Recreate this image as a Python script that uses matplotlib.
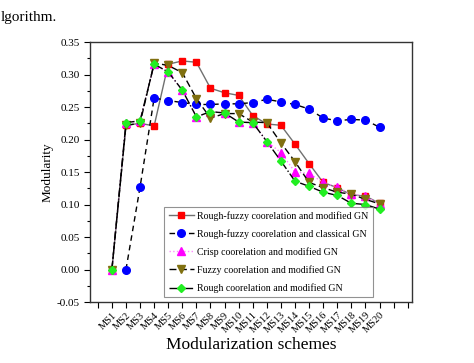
import matplotlib
matplotlib.use('Agg')
import matplotlib.pyplot as plt
import numpy as np

plt.rcParams['font.family'] = ['Liberation Serif', 'DejaVu Serif']

# modularization schemes MS1..MS20
schemes = ['MS%d' % i for i in range(1, 21)]

# rough-fuzzy coorelation + modified GN
rf_mod = [0.0, 0.222, 0.225, 0.221, 0.316, 0.321, 0.319, 0.279, 0.272, 0.268,
          0.237, 0.224, 0.222, 0.193, 0.163, 0.134, 0.126, 0.115, 0.113, 0.102]
# rough-fuzzy coorelation + classical GN (no value for MS1)
rf_cls = [np.nan, 0.0, 0.127, 0.264, 0.260, 0.257, 0.254, 0.254, 0.255, 0.255,
          0.257, 0.262, 0.258, 0.254, 0.247, 0.233, 0.229, 0.231, 0.230, 0.219]
# crisp coorelation + modified GN
crisp_mod = [0.0, 0.226, 0.229, 0.316, 0.304, 0.276, 0.235, 0.243, 0.241, 0.227,
             0.226, 0.197, 0.180, 0.150, 0.148, 0.134, 0.127, 0.116, 0.113, 0.101]
# fuzzy coorelation + modified GN
fuzzy_mod = [0.0, 0.222, 0.225, 0.318, 0.314, 0.303, 0.263, 0.233, 0.240, 0.240,
             0.227, 0.226, 0.195, 0.166, 0.134, 0.126, 0.119, 0.116, 0.108, 0.101]
# rough coorelation + modified GN
rough_mod = [0.0, 0.226, 0.229, 0.316, 0.304, 0.276, 0.235, 0.243, 0.241, 0.227,
             0.226, 0.197, 0.167, 0.136, 0.128, 0.119, 0.114, 0.102, 0.100, 0.093]

labels = ['Rough-fuzzy coorelation and modified GN',
          'Rough-fuzzy coorelation and classical GN',
          'Crisp coorelation and modified GN',
          'Fuzzy coorelation and modified GN',
          'Rough coorelation and modified GN']

x = np.arange(1, 21)

fig = plt.figure(figsize=(4.74, 3.63), dpi=100)
ax = fig.add_axes([0.19, 0.168, 0.679, 0.716])

ms = 5
ax.plot(x, rf_mod, color='#707070', ls='-', lw=1.0, marker='s', ms=ms,
        mfc='red', mec='red', label=labels[0])
ax.plot(x, rf_cls, color='black', ls=(0, (4, 3)), lw=1.0, marker='o', ms=ms + 0.5,
        mfc='blue', mec='blue', label=labels[1])
ax.plot(x, crisp_mod, color='#ff88ff', ls=':', lw=1.0, marker='^', ms=ms + 0.5,
        mfc='magenta', mec='magenta', label=labels[2])
ax.plot(x, fuzzy_mod, color='black', ls=(0, (5, 2.5)), lw=1.0, marker='v', ms=ms + 0.5,
        mfc='#807010', mec='#807010', label=labels[3])
ax.plot(x, rough_mod, color='black', ls='-.', lw=1.0, marker='D', ms=ms - 0.5,
        mfc='#22ee22', mec='#22ee22', label=labels[4])

ax.set_xlim(-0.55, 22.3)
ax.set_ylim(-0.05, 0.35)
ax.set_xticks(np.arange(0, 23))
ax.set_xticklabels([''] + schemes + ['', ''], rotation=45, ha='right',
                   rotation_mode='anchor', fontsize=7.5)
ax.set_yticks(np.arange(-0.05, 0.351, 0.05))
ax.set_yticklabels(['%.2f' % v for v in np.arange(-0.05, 0.351, 0.05)], fontsize=8)
ax.set_yticks(np.arange(-0.025, 0.35, 0.05), minor=True)
ax.tick_params(direction='out', length=4, width=0.8)
ax.tick_params(which='minor', direction='out', length=2.5, width=0.8)
ax.tick_params(axis='x', pad=2)
for s in ax.spines.values():
    s.set_linewidth(1.0)
    s.set_color('#333333')

ax.set_xlabel('Modularization schemes', fontsize=12.5, labelpad=2)
ax.set_ylabel('Modularity', fontsize=9.5, labelpad=2)

leg = ax.legend(loc='lower right', bbox_to_anchor=(0.885, 0.01), fontsize=7.1,
                handlelength=2.6, frameon=True, fancybox=False,
                edgecolor='#777777', borderpad=0.45, labelspacing=0.85,
                handletextpad=0.3, borderaxespad=0.2)
leg.get_frame().set_linewidth(0.8)

fig.text(0.002, 0.952, 'lgorithm.', fontsize=11, ha='left', va='center')

fig.savefig('out.png', dpi=100)
